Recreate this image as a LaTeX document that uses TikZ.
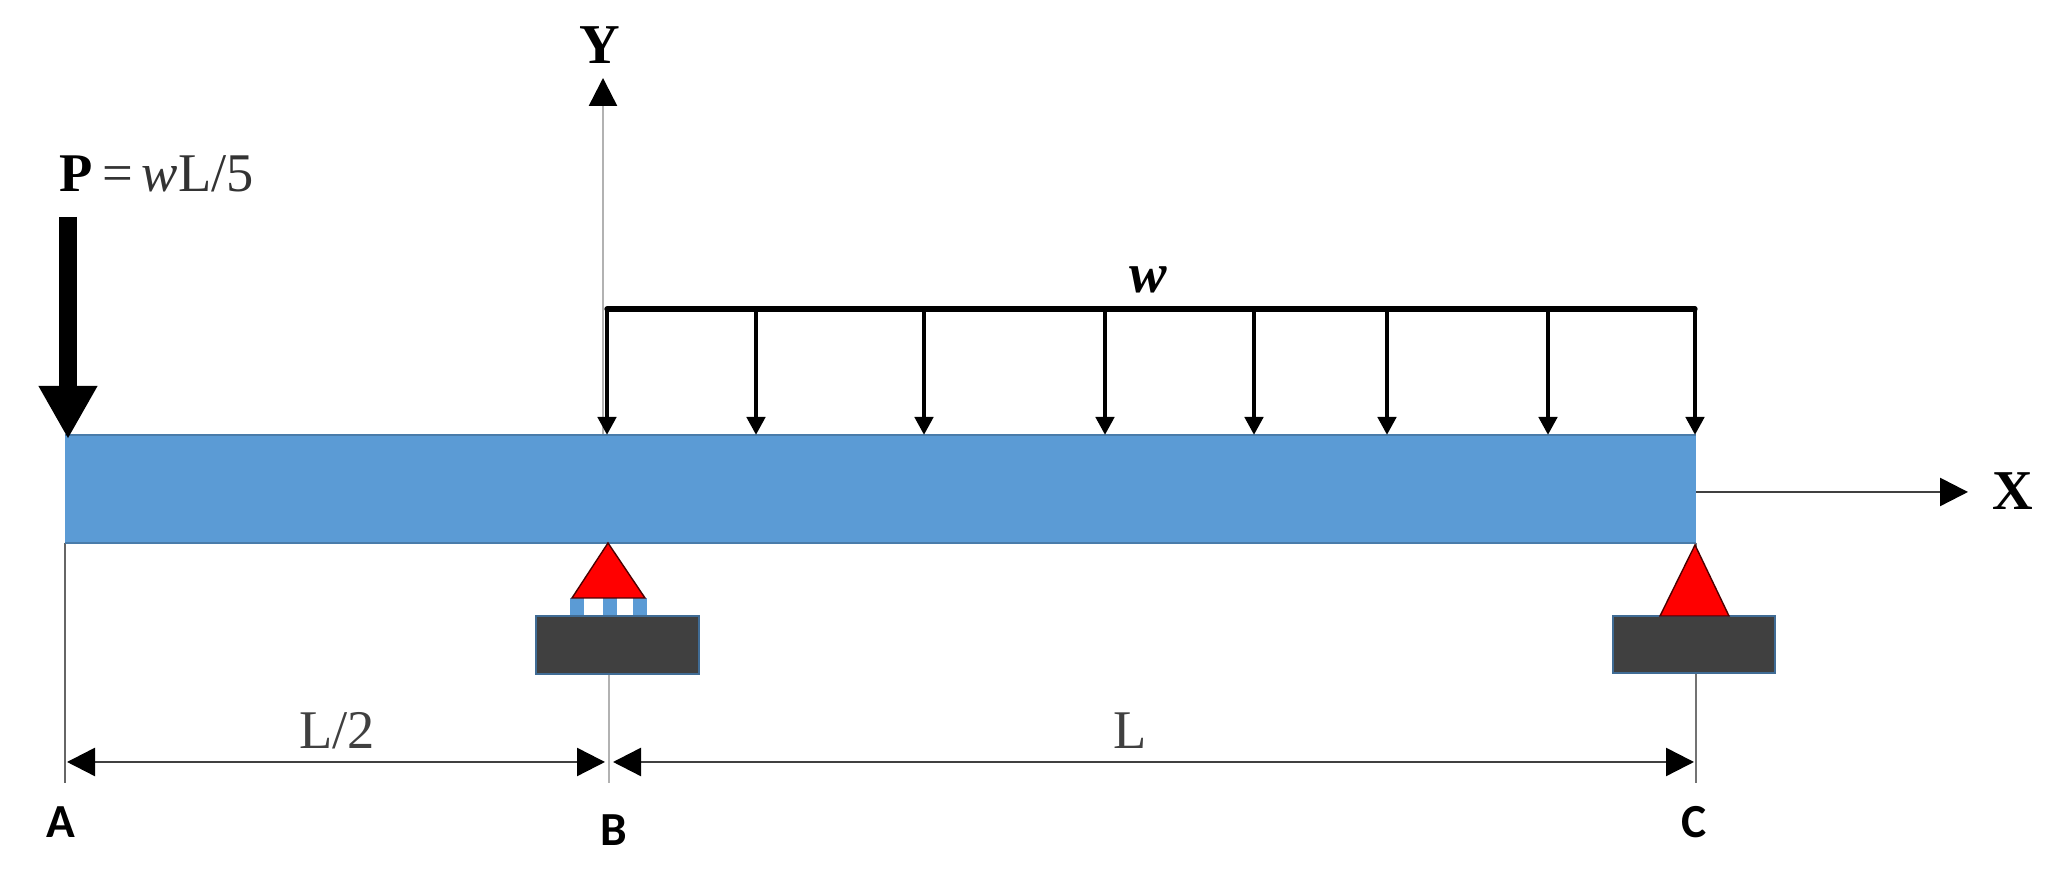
\documentclass[tikz,border=0pt]{standalone}
\usepackage{fontspec}
\setmainfont{Liberation Serif}
\newfontfamily\ptfont{Carlito}
\usetikzlibrary{arrows.meta}
\definecolor{beamblue}{HTML}{5B9BD5}
\definecolor{blockgrey}{HTML}{404040}
\def\labY{0.58}
\def\dimY{1.19}
\tikzset{
  dimline/.style={draw=black!75, line width=0.7pt, {Triangle[length=2.8mm,width=2.8mm,color=black]}-{Triangle[length=2.8mm,width=2.8mm,color=black]}},
  axisline/.style={line width=0.7pt, -{Triangle[length=2.8mm,width=2.8mm,color=black]}},
  loadline/.style={line width=1.3pt, -{Triangle[length=1.8mm,width=1.8mm]}},
  block/.style={fill=blockgrey, draw=beamblue!70!black, line width=0.4pt},
  pin/.style={fill=red, draw=black!70!red, line width=0.4pt},
  ptlabel/.style={font=\ptfont\bfseries\fontsize{13.5}{14}\selectfont, text=black},
  axlabel/.style={font=\bfseries\fontsize{16}{18}\selectfont},
  dimlabel/.style={font=\fontsize{15.5}{18}\selectfont, text=black!75}
}
\begin{document}
\begin{tikzpicture}
\useasboundingbox (0,0) rectangle (20.46,8.81);
% Points along the beam
\coordinate (A) at (0.65,3.38);
\coordinate (B) at (6.09,3.38);
\coordinate (C) at (16.96,3.38);
\coordinate (ytop) at (6.03,8.03);
\coordinate (xtip) at (19.68,3.89);
\coordinate (ltop) at (6.07,5.72);
\coordinate (rtop) at (16.95,5.72);
% Thin verticals and Y axis under everything else
\draw[black!30, line width=0.7pt] (6.03,4.46) -- (ltop -| ytop);
\draw[axisline, draw=black!30] (6.03,5.72) -- (ytop);
\draw[black!60, line width=0.6pt] (A) -- (0.65,0.98);
\draw[black!30, line width=0.8pt] (B) -- (6.09,0.98);
\draw[black!55, line width=0.6pt] (C) -- (16.96,0.98);
% Beam
\fill[beamblue] (A) rectangle (16.96,4.46);
\draw[beamblue!80!black, line width=0.5pt] (0.65,4.46) -- (16.96,4.46);
\draw[beamblue!80!black, line width=0.5pt] (A) -- (C);
% X axis
\draw[axisline, draw=black!75] (16.96,3.89) -- (xtip);
% Distributed load
\draw[line width=1.5pt, line cap=round] (ltop) -- (rtop);
\foreach \x in {6.07,7.56,9.24,11.05,12.54,13.87,15.48,16.95}
  \draw[loadline] (\x,5.72) -- (\x,4.46);
% Point load
\draw[line width=5.4pt, -{Triangle[length=5.3mm,width=5.5mm,sep=0pt]}] (0.68,6.64) -- (0.68,4.42);
% Rollers and support at B
\foreach \x in {5.77,6.10,6.40}
  \fill[beamblue] (\x-0.07,2.65) rectangle (\x+0.07,2.83);
\draw[block] (5.36,2.07) rectangle (6.99,2.65);
\draw[pin] (6.08,3.38) -- (5.72,2.83) -- (6.45,2.83) -- cycle;
% Support at C
\draw[block] (16.13,2.08) rectangle (17.75,2.65);
\draw[pin] (16.95,3.36) -- (16.60,2.65) -- (17.29,2.65) -- cycle;
% Dimension arrows
\coordinate (d1) at (0.67,\dimY);
\coordinate (d2) at (6.05,\dimY);
\coordinate (d3) at (6.13,\dimY);
\coordinate (d4) at (16.94,\dimY);
\draw[dimline] (d1) -- (d2);
\draw[dimline] (d3) -- (d4);
% Labels
\node[dimlabel] (lhalf) at (3.37,1.50) {L/2};
\node[dimlabel] (lfull) at (11.30,1.50) {L};
\node[ptlabel] (ptA) at (0.61,\labY+0.01) {A};
\node[ptlabel] (ptB) at (6.14,0.51) {B};
\node[ptlabel] (ptC) at (16.94,\labY+0.01) {C};
\node[axlabel] (yname) at (6.00,8.36) {Y};
\node[axlabel] (xname) at (20.13,3.90) {X};
\node[font=\bfseries\itshape\fontsize{16}{18}\selectfont] (wname) at (11.48,6.01) {w};
\node[anchor=base west, inner sep=0pt, font=\fontsize{15.5}{18}\selectfont, text=black!80] (pname) at (0.59,6.89) {\textbf{\textcolor{black}{P}}\,=\,\textit{w}L/5};
\end{tikzpicture}
\end{document}
